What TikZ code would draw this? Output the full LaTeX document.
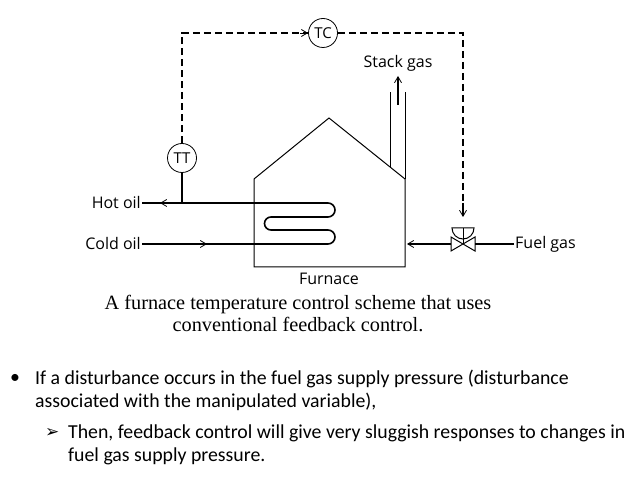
\documentclass[tikz,border=0pt]{standalone}
\usepackage{fontspec}
\setmainfont{Carlito}
\newfontfamily\lab{Open Sans}
\newfontfamily\capf{Liberation Serif}
\newfontfamily\dejav{DejaVu Sans}
\usetikzlibrary{arrows.meta}
\begin{document}
\begin{tikzpicture}[x=1pt,y=-1pt,
  ln/.style={line width=1pt},
  thk/.style={line width=1.6pt},
  dsh/.style={line width=1.6pt,dash pattern=on 7pt off 4pt},
  inst/.style={circle,draw,line width=0.8pt,minimum size=29pt,inner sep=0pt,font=\lab\fontsize{15}{16}\selectfont,fill=white},
  lbl/.style={font=\lab\fontsize{16}{18}\selectfont,inner sep=1pt},
  open/.style={-{Straight Barb[length=6pt,width=7pt,line width=0.8pt]}},
  body/.style={font=\fontsize{19.8}{23}\selectfont,anchor=west,inner sep=0pt}]
\useasboundingbox (0,0) rectangle (638,478);
% furnace
\draw[ln] (254,179) -- (254,267) -- (405,267) -- (405,179) -- (329,118) -- cycle;
\draw[ln] (390,167) -- (390,92);
\draw[ln] (405,179) -- (405,92);
\coordinate (sgb) at (398,105);
\node[lbl] (sg) at (398,63) {Stack gas};
\draw[thk,open] (sgb) -- (398,76);
% instruments
\node[inst] (tt) at (182,158) {TT};
\node[inst] (tc) at (323,33) {TC};
% coil
\node[lbl,anchor=east] (hot) at (142,203) {Hot oil};
\node[lbl,anchor=east] (cold) at (142,244) {Cold oil};
\draw[thk] (hot.east) -- (328,203) arc (-90:90:7) -- (271,217) arc (-90:-270:6.5) -- (328,230) arc (-90:90:7) -- (cold.east);
\draw[thk,open] (182,203) -- (160,203);
\draw[thk,open] (cold.east) -- (207,244);
\draw[thk] (tt) -- (182,203);
% signals
\draw[dsh] (tt) -- (182,33) -- (tc);
\draw[line width=0.8pt,open] (300,33) -- (tc.west);
% valve
\coordinate (v) at (463,244);
\draw[ln] (v) -- (463,228);
\draw[ln] (452,228) -- (474,228) arc (0:180:11) -- cycle;
\draw[dsh] (tc) -- (463,33) -- (463,208);
\draw[line width=1.2pt,open] (463,203) -- (463,217);
\draw[ln] (451,237) -- (475,251) -- (475,237) -- (451,251) -- cycle;
\node[lbl,anchor=west] (fuel) at (514,244) {Fuel gas};
\draw[thk] (fuel.west) -- (475,244);
\draw[thk,open] (451,244) -- (407,244);
\node[lbl] (fur) at (329,279) {Furnace};
% caption
\node[font=\capf\fontsize{20.3}{22}\selectfont,align=center] (cap) at (298,313) {A furnace temperature control scheme that uses\\conventional feedback control.};
% text
\node[body] (b1) at (10,379) {\textbullet};
\node[body] (t1) at (35,379) {If a disturbance occurs in the fuel gas supply pressure (disturbance};
\node[body] (t2) at (35,402) {associated with the manipulated variable),};
\node[body] (b2) at (45,433) {\dejav\fontsize{17}{18}\selectfont\symbol{"27A2}};
\node[body] (t3) at (68,433) {Then, feedback control will give very sluggish responses to changes in};
\node[body] (t4) at (68,456) {fuel gas supply pressure.};
\end{tikzpicture}
\end{document}
